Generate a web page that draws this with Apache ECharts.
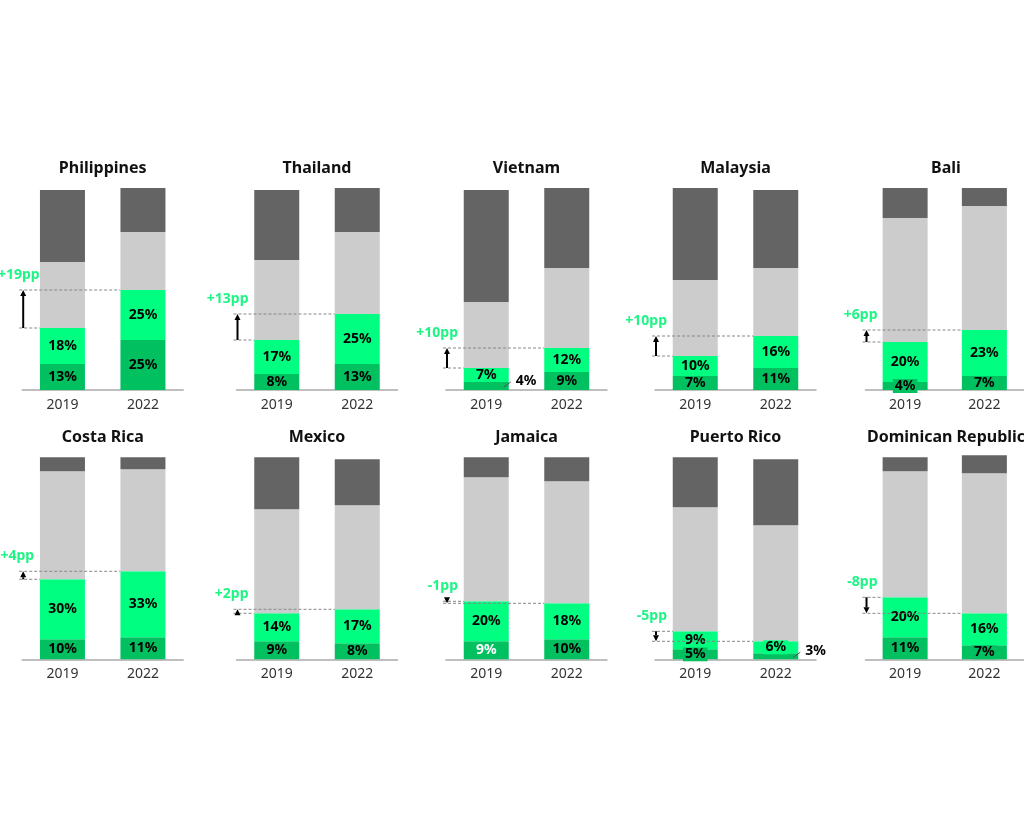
<!DOCTYPE html>
<html><head><meta charset="utf-8">
<script src="https://cdn.jsdelivr.net/npm/echarts@6/dist/echarts.min.js"></script>
<style>html,body{margin:0;padding:0;background:#fff}#c{width:1024px;height:819px}</style>
</head><body><div id="c"></div>
<script>
// ---- data ----
const countries = ['Philippines','Thailand','Vietnam','Malaysia','Bali','Costa Rica','Mexico','Jamaica','Puerto Rico','Dominican Republic'];
const years = ['2019','2022'];
const darkGreen  = [[13,25],[8,13],[4,9],[7,11],[4,7],[10,11],[9,8],[9,10],[5,3],[11,7]];
const lightGreen = [[18,25],[17,25],[7,12],[10,16],[20,23],[30,33],[14,17],[20,18],[9,6],[20,16]];
const lightGrey  = [[33,29],[40,41],[33,40],[38,34],[62,62],[54,51],[52,52],[62,61],[62,58],[63,70]];
const darkGrey   = [[36,22],[35,22],[56,40],[46,39],[15,9],[7,6],[26,23],[10,12],[25,33],[7,9]];
const outsideLabels = [[2,0],[8,1]];   // [country, year] dark-green labels drawn outside the bar
const whiteLabels = [[7,0]];           // [country, year] dark-green labels in white

// ---- layout / style ----
const segs = [darkGreen, lightGreen, lightGrey, darkGrey];
const COLORS = ['#00c060','#00ff80','#cccccc','#646464'];
const PP_COLOR = '#1ef585';
const FONT = 'Noto Sans';
const centers = [102.7, 317, 526.5, 735.5, 946];
const rowTop = [170, 439.3];
const GW = 161, GH = 220, YMAX = 110, BW = 45;

const has = (list,i,k)=>list.some(p=>p[0]===i&&p[1]===k);

const grids=[], xAxes=[], yAxes=[], series=[];
countries.forEach((c,i)=>{
  const row = Math.floor(i/5), col = i%5;
  grids.push({left: centers[col]-GW/2, top: rowTop[row], width: GW, height: GH});
  xAxes.push({type:'category', gridIndex:i, data:years, axisTick:{show:false},
    axisLine:{lineStyle:{color:'#aaaaaa', width:1.5}},
    axisLabel:{fontSize:14, color:'#333', margin:8, fontFamily:FONT}});
  yAxes.push({type:'value', gridIndex:i, min:0, max:YMAX, show:false, splitLine:{show:false}});
  segs.forEach((arr,s)=>{
    series.push({
      type:'bar', xAxisIndex:i, yAxisIndex:i, stack:'s'+i, barWidth:BW,
      itemStyle:{color:COLORS[s]}, emphasis:{disabled:true},
      label: s<2 ? {show:true, position:'inside', formatter:'{c}%', fontSize:14, fontWeight:'bold',
        color:'#000', fontFamily:FONT, backgroundColor:COLORS[s], padding:[0,2]} : {show:false},
      data: arr[i].map((v,k)=>{
        const item = {value:v};
        if (s===0 && has(outsideLabels,i,k)) item.label = {position:'right', distance:5, offset:[0,-5], backgroundColor:'transparent'};
        if (s===0 && has(whiteLabels,i,k)) item.label = {color:'#fff'};
        return item;
      })
    });
  });
});

const chart = echarts.init(document.getElementById('c'), null, {renderer:'canvas'});
chart.setOption({animation:false, backgroundColor:'#fff', grid:grids, xAxis:xAxes, yAxis:yAxes, series:series});

// ---- annotations computed through the chart scales ----
const ctx = document.createElement('canvas').getContext('2d');
const graphics = [];
countries.forEach((c,i)=>{
  const row = Math.floor(i/5), col = i%5;
  const gl = centers[col]-GW/2;
  const px = (k,v)=>chart.convertToPixel({gridIndex:i},[k,v]);
  graphics.push({type:'text', style:{text:c, x:centers[col], y:rowTop[row]-2, align:'center', verticalAlign:'middle',
    font:'bold 16px "'+FONT+'"', fill:'#111'}});
  const g0 = darkGreen[i][0]+lightGreen[i][0], g1 = darkGreen[i][1]+lightGreen[i][1];
  const p0 = px(0,g0), p1 = px(1,g1);
  const y0 = p0[1], y1 = p1[1];
  const ax = gl+1;
  const dash = {stroke:'#888', lineWidth:1, lineDash:[3,2]};
  graphics.push({type:'line', shape:{x1:ax-4, y1:y0, x2:p0[0]-BW/2, y2:y0}, style:dash, z:10});
  graphics.push({type:'line', shape:{x1:ax-4, y1:y1, x2:p1[0]-BW/2, y2:y1}, style:dash, z:10});
  const dir = y1<y0 ? 1 : -1; // +1: arrow points up
  const headL = 6, headW = 3;
  if (Math.abs(y0-y1) > headL) {
    graphics.push({type:'line', shape:{x1:ax, y1:y0, x2:ax, y2:y1+dir*headL}, style:{stroke:'#000', lineWidth:2}, z:11});
  }
  graphics.push({type:'polygon', shape:{points:[[ax,y1],[ax-headW,y1+dir*headL],[ax+headW,y1+dir*headL]]}, style:{fill:'#000'}, z:11});
  const d = g1-g0;
  const txt = (d>0?'+':'')+d+'pp';
  const font = 'bold 14px "'+FONT+'"';
  ctx.font = font;
  const w = ctx.measureText(txt).width;
  let right = ax+11;
  if (right-w < -2) right = w-2;
  graphics.push({type:'text', style:{text:txt, x:right, y:Math.min(y0,y1)-15, align:'right', verticalAlign:'middle', font:font, fill:PP_COLOR}, z:12});
  outsideLabels.forEach(p=>{
    if (p[0]!==i) return;
    const k = p[1];
    const cen = px(k, darkGreen[i][k]/2);
    const rx = cen[0]+BW/2;
    graphics.push({type:'line', shape:{x1:rx-5, y1:cen[1]+1, x2:rx+2, y2:cen[1]-4}, style:{stroke:'#555', lineWidth:1}, z:12});
  });
});
chart.setOption({graphic:graphics});
</script>
</body></html>
